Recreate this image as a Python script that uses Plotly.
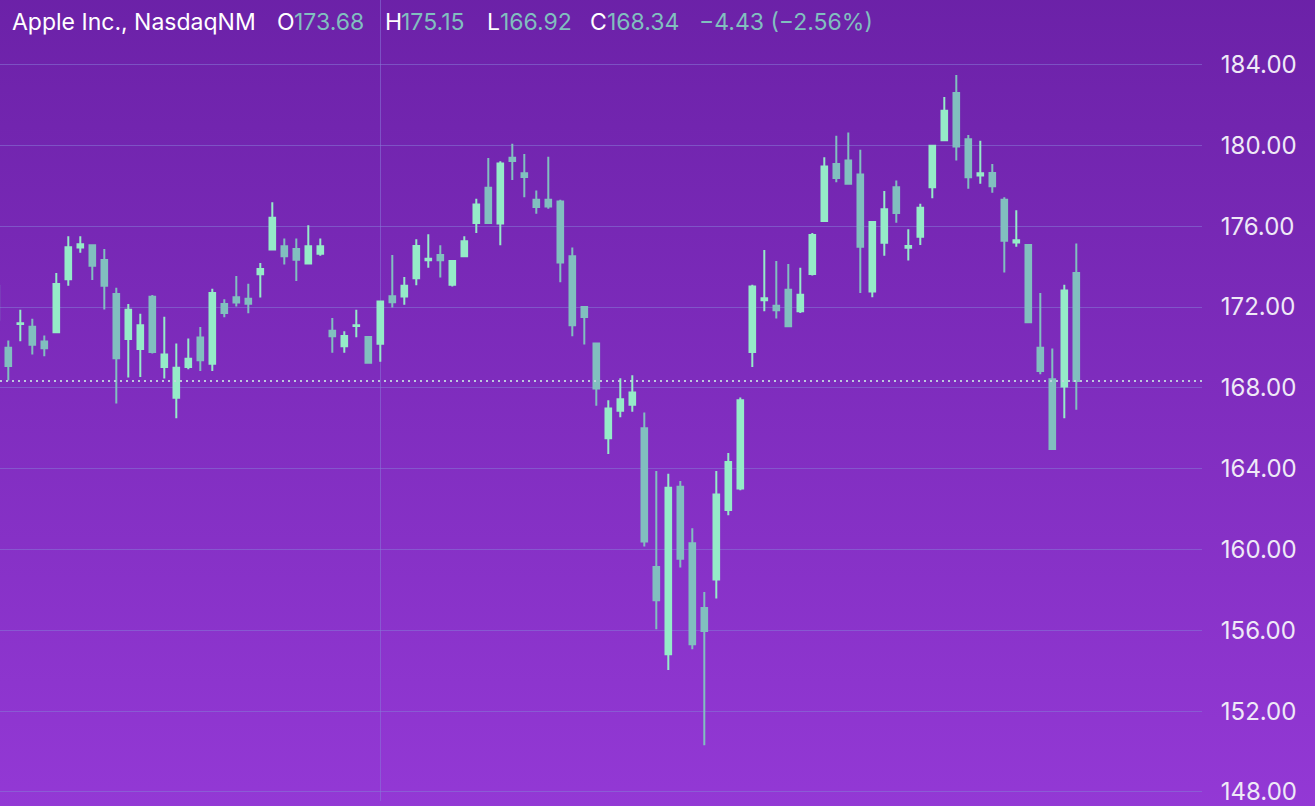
import base64
import plotly.graph_objects as go

# ---- data ----
opens = [173.06, 169.98, 171.16, 171.03, 170.29, 170.75, 173.37, 174.95, 175.06, 174.33,
         172.64, 170.42, 169.92, 172.51, 169.03, 167.51, 169.03, 170.49, 169.19, 172.15,
         172.49, 172.41, 173.62, 174.85, 175.01, 174.87, 174.16, 174.64, 170.83, 170.06,
         171.06, 170.52, 170.18, 172.54, 172.52, 173.42, 174.31, 174.57, 173.10, 174.52,
         176.16, 177.90, 176.13, 179.39, 178.62, 177.31, 177.31, 177.23, 174.52, 172.00,
         170.19, 165.51, 166.87, 167.16, 166.00, 159.13, 154.82, 163.10, 160.31, 157.11,
         158.51, 161.95, 163.02, 169.77, 172.34, 172.07, 172.85, 171.79, 173.64, 176.26,
         179.08, 179.25, 178.56, 172.77, 175.18, 177.93, 174.93, 175.48, 177.93, 180.26,
         182.59, 180.31, 178.51, 178.64, 177.31, 175.20, 175.07, 169.98, 168.43, 168.07,
         173.68]
highs = [173.40, 170.34, 171.87, 171.42, 170.59, 173.69, 175.50, 175.50, 175.06, 174.87,
         172.96, 172.15, 171.67, 172.59, 171.52, 170.19, 170.44, 171.01, 172.90, 172.39,
         173.54, 173.15, 174.18, 177.19, 175.39, 175.39, 176.05, 175.39, 171.46, 170.80,
         171.87, 170.56, 172.28, 174.57, 173.49, 175.36, 175.60, 175.06, 174.33, 175.51,
         177.36, 179.38, 179.21, 180.08, 179.57, 177.77, 179.44, 177.31, 174.95, 172.00,
         170.25, 167.39, 168.47, 168.62, 166.78, 163.88, 163.75, 163.39, 161.05, 157.90,
         163.88, 164.78, 167.52, 173.10, 174.82, 174.28, 174.13, 173.95, 175.67, 179.41,
         180.48, 180.64, 179.79, 176.26, 177.74, 178.26, 175.85, 177.11, 179.98, 182.40,
         183.48, 180.51, 180.23, 179.08, 177.44, 176.79, 175.12, 172.69, 169.95, 173.10,
         175.15]
lows = [170.90, 168.37, 170.31, 169.65, 169.57, 170.75, 173.06, 174.69, 173.34, 171.88,
        167.23, 168.51, 168.54, 169.70, 168.46, 166.49, 168.92, 168.83, 168.83, 171.49,
        172.03, 171.69, 172.47, 174.85, 174.11, 173.29, 174.16, 174.54, 169.74, 169.74,
        170.51, 169.24, 169.29, 171.98, 172.11, 173.08, 173.95, 173.46, 173.02, 174.52,
        175.67, 176.16, 175.06, 178.29, 177.44, 176.62, 176.87, 173.23, 170.56, 170.15,
        167.11, 164.73, 166.54, 166.82, 160.15, 156.05, 154.03, 159.11, 155.06, 150.31,
        157.57, 161.70, 162.93, 169.03, 171.79, 171.43, 171.05, 171.70, 173.56, 176.21,
        178.18, 178.10, 172.69, 172.49, 174.54, 176.17, 174.30, 175.07, 177.39, 180.26,
        179.25, 177.85, 178.10, 177.66, 173.71, 174.98, 171.25, 168.67, 164.98, 166.49,
        166.92]
closes = [171.37, 169.08, 171.20, 170.13, 169.96, 173.14, 174.96, 175.11, 174.05, 173.06,
          169.47, 171.87, 171.10, 169.77, 169.65, 169.00, 169.44, 169.37, 172.69, 171.70,
          172.23, 172.16, 173.88, 176.42, 174.51, 174.34, 175.01, 175.01, 170.56, 170.57,
          171.10, 169.24, 172.28, 172.24, 173.05, 175.02, 174.39, 174.31, 174.28, 175.26,
          177.08, 176.16, 179.11, 179.23, 178.44, 176.95, 176.98, 174.20, 171.10, 171.51,
          167.97, 166.98, 167.44, 167.77, 160.39, 157.49, 163.05, 159.54, 155.31, 155.97,
          162.72, 164.33, 167.39, 173.02, 172.44, 171.84, 171.05, 172.61, 175.56, 178.95,
          178.39, 178.10, 174.98, 176.21, 176.84, 176.66, 175.02, 176.92, 179.98, 181.71,
          179.95, 178.43, 178.62, 177.98, 175.28, 175.31, 171.25, 168.84, 164.98, 172.82,
          168.34]
bars = list(range(len(opens)))
marked_bar = [32]
price_ticks = [148, 152, 156, 160, 164, 168, 172, 176, 180, 184]

title_name = "Apple Inc., NasdaqNM"
change = "\u22124.43 (\u22122.56%)"

UP = "#95EBC8"
DOWN = "#81BFBF"
GRID = "rgba(135,120,215,0.55)"
LABEL = "#ffffff"

fig = go.Figure()
fig.add_trace(go.Candlestick(
    x=bars, open=opens, high=highs, low=lows, close=closes,
    increasing=dict(fillcolor=UP, line=dict(color=UP, width=2)),
    decreasing=dict(fillcolor=DOWN, line=dict(color=DOWN, width=2)),
    whiskerwidth=0, hoverinfo="skip", showlegend=False,
))

# last-price dotted line
fig.add_shape(type="line", xref="paper", x0=0, x1=1, yref="y",
              y0=closes[-1], y1=closes[-1],
              line=dict(color="rgba(195,215,225,0.9)", width=2, dash="2px,4px"),
              layer="above")

# gradient background
svg = ('<svg xmlns="http://www.w3.org/2000/svg" width="10" height="100" viewBox="0 0 10 100" '
       'preserveAspectRatio="none"><defs><linearGradient id="g" x1="0" y1="0" x2="0" y2="1">'
       '<stop offset="0" stop-color="#6B21A7"/><stop offset="1" stop-color="#9439D6"/>'
       '</linearGradient></defs><rect width="10" height="100" fill="url(#g)"/></svg>')
src = "data:image/svg+xml;base64," + base64.b64encode(svg.encode()).decode()
fig.add_layout_image(source=src, xref="paper", yref="paper", x=-0.02, y=1.02,
                     sizex=1.15, sizey=1.05, xanchor="left", yanchor="top",
                     sizing="stretch", layer="below")

# header text, piece by piece (text, colour, left pixel)
PLOT_W = 1202
pieces = [
    (title_name, LABEL, 10),
    ("O", LABEL, 275), (f"{opens[-1]:.2f}", DOWN, 292),
    ("H", LABEL, 383), (f"{highs[-1]:.2f}", DOWN, 399),
    ("L", LABEL, 485), (f"{lows[-1]:.2f}", DOWN, 498),
    ("C", LABEL, 588), (f"{closes[-1]:.2f}", DOWN, 605),
    (change, DOWN, 697),
]
for txt, col, px in pieces:
    fig.add_annotation(text=txt, xref="paper", yref="paper", x=px / PLOT_W, y=1 - 22 / 806,
                       xanchor="left", yanchor="middle", showarrow=False,
                       font=dict(family="Inter", size=23, color=col))

fig.update_layout(
    width=1315, height=806,
    margin=dict(l=0, r=113, t=0, b=0),
    paper_bgcolor="#7F2DBE",
    plot_bgcolor="rgba(0,0,0,0)",
    boxgap=0.33,
    xaxis=dict(range=[0.308, 100.475], rangeslider=dict(visible=False),
               tickvals=marked_bar, showticklabels=False, showgrid=True,
               gridcolor=GRID, gridwidth=1, zeroline=False, showline=False, ticks=""),
    yaxis=dict(range=[147.552, 187.197], side="right", tickvals=price_ticks,
               tickformat=".2f", showgrid=True, gridcolor=GRID, gridwidth=1,
               zeroline=False, showline=False, ticks="outside", ticklen=13,
               tickcolor="rgba(0,0,0,0)", ticklabeloverflow="allow",
               tickfont=dict(family="Inter", size=24, color="#EFE9F7")),
)

fig.write_html("out.html", config={"displayModeBar": False},
               post_script="document.body.style.margin='0';")
